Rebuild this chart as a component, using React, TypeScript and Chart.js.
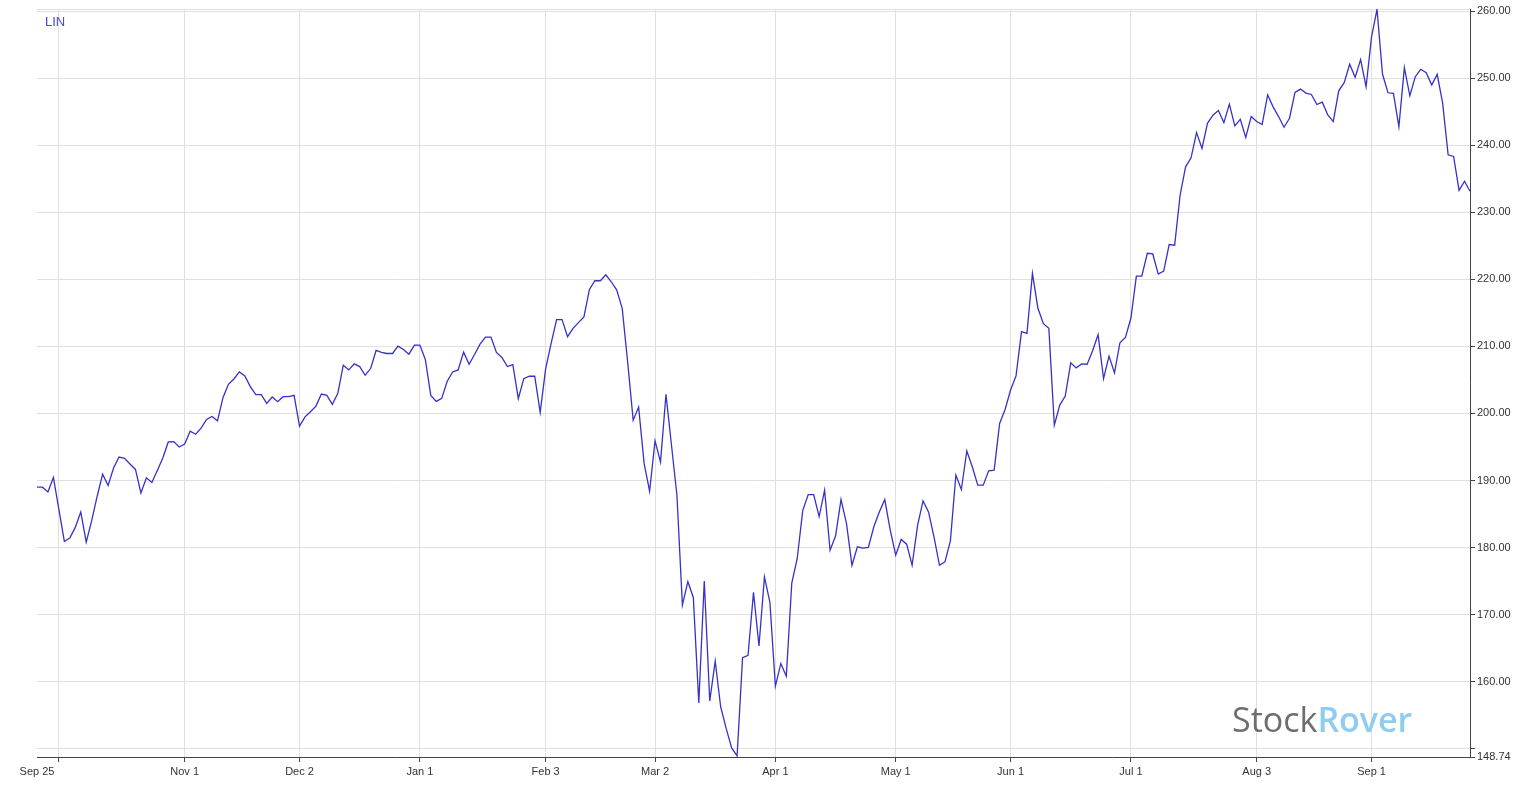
import React, { useEffect, useRef } from "react";
import { Chart, registerables } from "chart.js";

Chart.register(...registerables);

const seriesName = "LIN";

// Daily closes (weekdays), Sep 25 to Sep 25 of the next year
const prices: number[] = [
  189.0, 189.0, 188.3, 190.45, 185.7, 180.9, 181.4, 183.0, 185.3, 180.8,
  184.0, 187.65, 190.95, 189.25, 191.85, 193.5, 193.3, 192.45, 191.65, 188.15,
  190.4, 189.7, 191.5, 193.35, 195.75, 195.8, 195.0, 195.45, 197.35, 196.9,
  197.8, 199.1, 199.55, 198.9, 202.35, 204.35, 205.15, 206.2, 205.6, 204.0,
  202.8, 202.8, 201.5, 202.45, 201.75, 202.5, 202.5, 202.7, 198.1, 199.5,
  200.25, 201.1, 202.9, 202.7, 201.35, 203.0, 207.2, 206.5, 207.4, 207.0,
  205.7, 206.7, 209.4, 209.1, 208.95, 208.95, 210.05, 209.55, 208.85, 210.2,
  210.2, 208.05, 202.7, 201.8, 202.25, 204.8, 206.2, 206.5, 209.15, 207.35,
  208.8, 210.35, 211.4, 211.4, 209.1, 208.35, 207.0, 207.3, 202.2, 205.2,
  205.55, 205.55, 200.15, 206.7, 210.45, 214.0, 214.0, 211.45, 212.7, 213.55,
  214.4, 218.5, 219.8, 219.8, 220.7, 219.65, 218.4, 215.65, 207.6, 199.0,
  200.95, 192.55, 188.4, 195.9, 192.75, 202.85, 195.3, 187.8, 171.4, 174.9,
  172.55, 156.8, 175.0, 157.1, 163.05, 156.2, 153.0, 150.1, 148.9, 163.55,
  163.9, 173.3, 165.3, 175.6, 171.8, 159.3, 162.7, 160.8, 174.7, 178.4,
  185.5, 187.9, 187.9, 184.6, 188.55, 179.6, 181.7, 187.15, 183.6, 177.35,
  180.1, 179.9, 180.0, 183.1, 185.3, 187.15, 182.6, 178.85, 181.2, 180.5,
  177.35, 183.3, 186.95, 185.3, 181.6, 177.35, 177.85, 181.0, 190.8, 188.65,
  194.4, 192.05, 189.3, 189.3, 191.45, 191.55, 198.5, 200.6, 203.5, 205.6,
  212.2, 211.95, 220.9, 215.7, 213.4, 212.7, 198.25, 201.25, 202.6, 207.55,
  206.8, 207.4, 207.35, 209.35, 211.75, 205.2, 208.55, 206.05, 210.55, 211.35,
  214.2, 220.5, 220.5, 223.9, 223.8, 220.8, 221.25, 225.2, 225.1, 232.6,
  236.8, 238.15, 241.9, 239.55, 243.3, 244.5, 245.2, 243.4, 246.15, 242.9,
  243.9, 241.2, 244.3, 243.55, 243.1, 247.55, 245.75, 244.3, 242.7, 244.05,
  247.9, 248.4, 247.8, 247.6, 246.1, 246.45, 244.55, 243.55, 248.15, 249.35,
  252.1, 250.15, 252.8, 248.75, 256.2, 260.3, 250.65, 247.85, 247.75, 242.8,
  251.6, 247.4, 250.25, 251.35, 250.85, 249.0, 250.6, 246.3, 238.6, 238.35,
  233.3, 234.65, 233.15,
];

// X tick positions (weekday index) and their labels
const xTickIndex: number[] = [0, 4, 27, 48, 70, 93, 113, 135, 157, 178, 200, 223, 244];
const xTickLabels: string[] = [
  "Sep 25", "", "Nov 1", "Dec 2", "Jan 1", "Feb 3", "Mar 2", "Apr 1",
  "May 1", "Jun 1", "Jul 1", "Aug 3", "Sep 1",
];

// Y ticks
const yMin = 148.74;
const yMax = 260.35;
const yTickValues: number[] = [148.74, 150, 160, 170, 180, 190, 200, 210, 220, 230, 240, 250, 260];
const yHiddenLabels: number[] = [150];

const FONT = "'Liberation Sans', Arial, Helvetica, sans-serif";

export default function App() {
  const canvasRef = useRef<HTMLCanvasElement | null>(null);

  useEffect(() => {
    if (!canvasRef.current) return;
    const topBorder = {
      id: "topBorder",
      beforeDatasetsDraw(chart: any) {
        const { ctx, chartArea } = chart;
        ctx.save();
        ctx.strokeStyle = "#e0e0e0";
        ctx.lineWidth = 1;
        ctx.beginPath();
        ctx.moveTo(chartArea.left, Math.round(chartArea.top) + 0.5);
        ctx.lineTo(chartArea.right, Math.round(chartArea.top) + 0.5);
        ctx.stroke();
        ctx.restore();
      },
    };

    const chart = new Chart(canvasRef.current, {
      type: "line",
      data: {
        datasets: [
          {
            label: seriesName,
            data: prices.map((v, i) => ({ x: i, y: v })),
            borderColor: "#3532c9",
            borderWidth: 1.3,
            pointRadius: 0,
            tension: 0,
            fill: false,
          },
        ],
      },
      options: {
        animation: false,
        responsive: true,
        maintainAspectRatio: false,
        layout: { padding: { left: 37, top: 9, right: 0, bottom: 0 } },
        plugins: {
          legend: { display: false },
          tooltip: { enabled: false },
        },
        scales: {
          x: {
            type: "linear",
            min: 0,
            max: prices.length - 1,
            afterBuildTicks: (scale: any) => {
              scale.ticks = xTickIndex.map((v) => ({ value: v }));
            },
            afterFit: (scale: any) => {
              scale.height = 30;
            },
            ticks: {
              autoSkip: false,
              maxRotation: 0,
              padding: 3,
              color: "#333",
              font: { family: FONT, size: 11 },
              callback: (_v: any, i: number) => xTickLabels[i],
            },
            grid: {
              color: (ctx: any) => (ctx.index === 0 ? "rgba(0,0,0,0)" : "#e0e0e0"),
              tickColor: (ctx: any) => (ctx.index === 0 ? "rgba(0,0,0,0)" : "#444"),
              tickLength: 5,
              drawTicks: true,
            },
            border: { display: true, color: "#444", width: 1 },
          },
          y: {
            type: "linear",
            position: "right",
            min: yMin,
            max: yMax,
            afterBuildTicks: (scale: any) => {
              scale.ticks = yTickValues.map((v) => ({ value: v }));
            },
            afterFit: (scale: any) => {
              scale.width = 54;
            },
            ticks: {
              padding: 2,
              color: "#333",
              font: { family: FONT, size: 11 },
              callback: (v: any) =>
                yHiddenLabels.includes(Number(v)) ? "" : Number(v).toFixed(2),
            },
            grid: {
              color: "#e0e0e0",
              tickColor: "#444",
              tickLength: 5,
              drawTicks: true,
            },
            border: { display: true, color: "#444", width: 1 },
          },
        },
      },
      plugins: [topBorder],
    });
    return () => chart.destroy();
  }, []);

  return (
    <div
      style={{
        position: "fixed",
        left: 0,
        top: 0,
        width: 1524,
        height: 787,
        background: "#fff",
        overflow: "hidden",
      }}
    >
      <canvas ref={canvasRef} />
      <div
        style={{
          position: "absolute",
          left: 45,
          top: 14,
          fontFamily: FONT,
          fontSize: 13,
          lineHeight: "16px",
          color: "#4b48d4",
          pointerEvents: "none",
        }}
      >
        {seriesName}
      </div>
      <div
        style={{
          position: "absolute",
          left: 1232,
          top: 699,
          fontFamily: "'Open Sans', 'Noto Sans', sans-serif",
          fontSize: 34,
          lineHeight: "40px",
          whiteSpace: "nowrap",
          pointerEvents: "none",
        }}
      >
        <span style={{ color: "#6e6e6e" }}>Stock</span>
        <span style={{ color: "#8ecdf0", fontWeight: 600 }}>Rover</span>
      </div>
    </div>
  );
}
